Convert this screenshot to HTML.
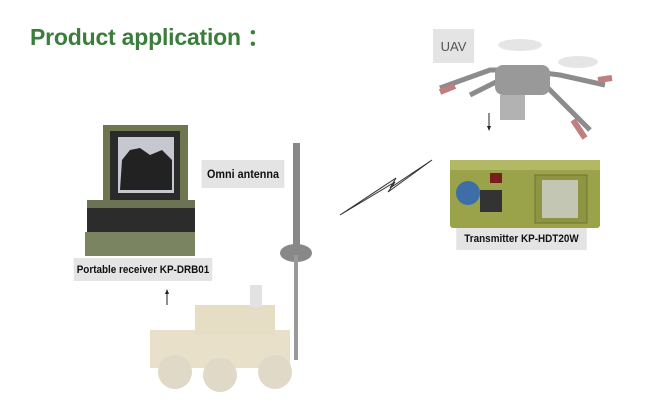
<!DOCTYPE html>
<html><head><style>
body{margin:0;width:650px;height:403px;background:#fff;position:relative;overflow:hidden;font-family:"Liberation Sans",sans-serif}
.a{position:absolute}
.lb{position:absolute;background:#e4e4e4;font-size:11px;font-weight:bold;color:#111;display:flex;align-items:center;justify-content:center;transform:scaleX(.9)}
</style></head><body>
<div class="a" style="left:30px;top:18px;font-size:23px;font-weight:bold;color:#3b7d3b;letter-spacing:-0.2px">Product application ：</div>
<div class="lb" style="left:433px;top:29px;width:41px;height:34px;font-weight:normal;color:#555;font-size:13px;transform:none">UAV</div>
<div class="lb" style="left:197px;top:160px;width:92px;height:28px;font-size:12px">Omni antenna</div>
<div class="lb" style="left:66px;top:258px;width:154px;height:23px">Portable receiver KP-DRB01</div>
<div class="lb" style="left:449px;top:228px;width:145px;height:22px">Transmitter KP-HDT20W</div>
<svg class="a" style="left:0;top:0" width="650" height="403">
<g opacity="0.75">
<ellipse cx="520" cy="45" rx="22" ry="6" fill="#ddd"/><ellipse cx="578" cy="62" rx="20" ry="6" fill="#ddd"/>
<path d="M440 88 L490 70 L520 70 L560 75 L605 85 M500 80 L470 95 M545 85 L590 130" stroke="#666" stroke-width="5" fill="none"/>
<rect x="495" y="65" width="55" height="30" rx="8" fill="#777"/>
<rect x="500" y="95" width="25" height="25" fill="#999"/>
<line x1="440" y1="92" x2="455" y2="86" stroke="#a55" stroke-width="6"/>
<line x1="573" y1="120" x2="585" y2="138" stroke="#a55" stroke-width="6"/>
<line x1="598" y1="80" x2="612" y2="78" stroke="#a55" stroke-width="6"/>
</g>
<line x1="489" y1="113" x2="489" y2="128" stroke="#222" stroke-width="1"/>
<path d="M487 126 L489 131 L491 126Z" fill="#222"/>
<path d="M340 215 L395 182 L388 192 L432 160 L390 188 L396 178 Z" fill="#eee" stroke="#333" stroke-width="1"/>
<rect x="450" y="160" width="150" height="68" rx="3" fill="#9aa24a"/>
<rect x="450" y="160" width="150" height="10" fill="#b3b865"/>
<rect x="535" y="175" width="52" height="48" fill="#8d9442" stroke="#6e7430"/>
<rect x="542" y="180" width="36" height="38" fill="#c4c6b4"/>
<circle cx="468" cy="193" r="12" fill="#3d6ea8"/>
<rect x="480" y="190" width="22" height="22" fill="#333"/>
<rect x="490" y="173" width="12" height="10" fill="#7a1d1d"/>
<rect x="103" y="125" width="85" height="85" fill="#6e7650"/>
<rect x="110" y="131" width="70" height="70" fill="#2a2a2a"/>
<rect x="118" y="137" width="56" height="56" fill="#c6c8cf"/>
<path d="M120 190 L122 160 L130 150 L140 148 L150 155 L162 150 L172 160 L172 190Z" fill="#222"/>
<rect x="87" y="200" width="108" height="35" fill="#2c2c2c"/>
<rect x="87" y="200" width="108" height="8" fill="#6a7455"/>
<rect x="85" y="232" width="110" height="24" fill="#7a8460"/>
<line x1="167" y1="292" x2="167" y2="305" stroke="#222"/>
<path d="M165 294 L167 289 L169 294Z" fill="#222"/>
<rect x="293" y="143" width="7" height="115" fill="#888"/>
<ellipse cx="296" cy="253" rx="16" ry="9" fill="#888"/>
<rect x="294" y="255" width="4" height="105" fill="#999"/>
<g opacity="0.55">
<rect x="150" y="330" width="140" height="38" fill="#d8c7a0"/>
<rect x="195" y="305" width="80" height="30" fill="#d3c296"/>
<rect x="250" y="285" width="12" height="22" fill="#ccc"/>
<circle cx="175" cy="372" r="17" fill="#c8bb9c"/>
<circle cx="220" cy="375" r="17" fill="#c8bb9c"/>
<circle cx="275" cy="372" r="17" fill="#c8bb9c"/>
</g>
</svg>
</body></html>
